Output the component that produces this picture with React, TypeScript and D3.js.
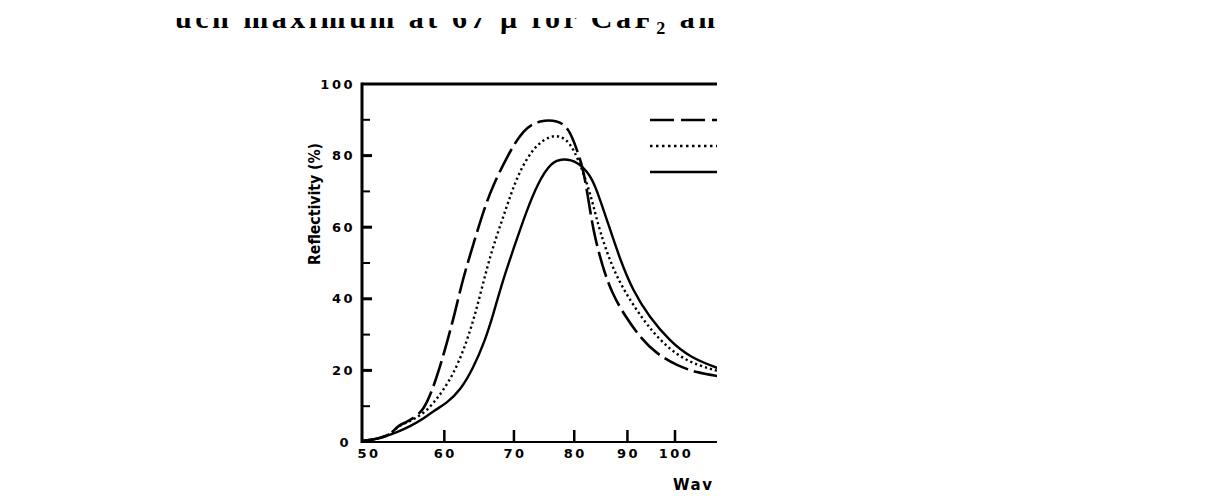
import React from "react";
import * as d3 from "d3";

// ---- data ----
const xTicks = [50, 60, 70, 80, 90, 100];
const yMajorTicks = [0, 20, 40, 60, 80, 100];
const yMinorTicks = [10, 30, 50, 70, 90];

const dashedWl = [50, 51, 52, 53, 53.6, 54.2, 55.2, 56.1, 57.3, 58.4, 59.4, 60.3, 61.4, 62.5, 64.0, 65.6, 66.8, 68.9, 71.5, 74.2, 77.1, 79.1, 80.5, 81.5, 82.3, 83.4, 85.2, 87.0, 89.7, 92.6, 96.0, 100.5, 104.9, 110];
const dashedR = [0.3, 0.6, 1.1, 1.9, 3.0, 4.6, 5.6, 6.8, 8.9, 14.3, 20.8, 27.4, 35.8, 45.5, 55.4, 65.5, 71.5, 79.6, 87.6, 89.9, 89.9, 87.6, 81.5, 76.8, 70.3, 59.1, 48.8, 41.4, 34.8, 29.2, 24.6, 21.3, 19.4, 18.4];

const dottedWl = [50, 51, 52, 53, 53.6, 54.2, 55.2, 56.3, 57.7, 58.8, 59.8, 61.2, 62.6, 64.0, 65.2, 66.5, 68.1, 69.3, 70.6, 72.9, 75.8, 77.8, 79.3, 80.8, 82.3, 83.4, 84.6, 87.0, 89.7, 93.3, 96.8, 101.2, 105.6, 110];
const dottedR = [0.3, 0.6, 1.1, 1.9, 3.0, 4.5, 5.4, 6.6, 8.7, 11.5, 14.3, 19.0, 25.5, 33.9, 43.0, 52.6, 61.5, 68.0, 74.5, 82.0, 85.7, 85.4, 83.4, 78.7, 72.2, 66.5, 59.1, 48.8, 41.4, 33.9, 28.3, 23.6, 21.3, 19.8];

const solidWl = [50, 51, 52, 53, 54.4, 55.6, 56.9, 58.6, 60.3, 62.2, 64.0, 65.6, 66.9, 68.1, 70.2, 72.0, 73.8, 76.0, 78.1, 80.5, 82.8, 84.0, 85.9, 88.6, 91.1, 94.5, 98.8, 103.4, 110];
const solidR = [0.3, 0.6, 1.1, 1.8, 3.1, 4.4, 5.9, 8.7, 10.8, 14.5, 20.8, 28.0, 35.8, 44.0, 55.4, 64.6, 72.3, 78.2, 79.2, 78.4, 74.8, 70.8, 62.5, 50.7, 42.3, 34.8, 28.3, 23.6, 20.6];

const yLabel = "Reflectivity (%)";
const xLabel = "Wav";
const headerText = "uch maximum at 67 \u03bc for CaF\u2082 an";

export default function App() {
  const W = 1231, H = 504;
  const left = 362, right = 717, top = 84, bottom = 442;
  const x = d3.scaleLog().domain([50, 100]).range([left, 675]);
  const y = d3.scaleLinear().domain([0, 100]).range([bottom, top]);

  const line = d3
    .line<[number, number]>()
    .x((d) => x(d[0]))
    .y((d) => y(d[1]))
    .curve(d3.curveBasis);

  const dashedPts = dashedWl.map((w, i) => [w, dashedR[i]] as [number, number]);
  const dottedPts = dottedWl.map((w, i) => [w, dottedR[i]] as [number, number]);
  const solidPts = solidWl.map((w, i) => [w, solidR[i]] as [number, number]);

  const tickFont = "'DejaVu Sans', sans-serif";

  return (
    <svg
      width={W}
      height={H}
      style={{ position: "absolute", left: 0, top: 0, background: "#fff" }}
    >
      <defs>
        <clipPath id="crop">
          <rect x={0} y={0} width={right} height={H} />
        </clipPath>
        <clipPath id="headerClip">
          <rect x={0} y={18} width={right} height={20} />
        </clipPath>
      </defs>
      <rect x={0} y={0} width={W} height={H} fill="#fff" />

      {/* header text line, partially cropped */}
      <g clipPath="url(#headerClip)">
        <text
          x={175}
          y={28}
          fontFamily="'Liberation Serif', serif"
          fontSize={30}
          fontWeight="bold"
          textLength={540}
          lengthAdjust="spacing"
          fill="#000"
        >
          {headerText}
        </text>
      </g>

      <g clipPath="url(#crop)">
        {/* frame */}
        <line x1={left} x2={right} y1={top} y2={top} stroke="#000" strokeWidth={3} />
        <line x1={left} x2={left} y1={top - 1.5} y2={bottom + 1} stroke="#000" strokeWidth={3} />
        <line x1={left} x2={right} y1={bottom} y2={bottom} stroke="#000" strokeWidth={2} />

        {/* y ticks */}
        {yMajorTicks.filter((t) => t > 0 && t < 100).map((t) => (
          <line key={"ym" + t} x1={left} x2={left + 10} y1={y(t)} y2={y(t)} stroke="#000" strokeWidth={3} />
        ))}
        {yMinorTicks.map((t) => (
          <line key={"yn" + t} x1={left} x2={left + 8} y1={y(t)} y2={y(t)} stroke="#000" strokeWidth={2} />
        ))}
        {/* x ticks */}
        {xTicks.filter((t) => t > 50).map((t) => (
          <line key={"xt" + t} x1={x(t)} x2={x(t)} y1={bottom} y2={bottom - 12} stroke="#000" strokeWidth={2.5} />
        ))}

        {/* curves */}
        <path d={line(dashedPts) || ""} fill="none" stroke="#000" strokeWidth={2.6} strokeDasharray="26 6" />
        <path d={line(dottedPts) || ""} fill="none" stroke="#000" strokeWidth={2.4} strokeDasharray="2.2 3" />
        <path d={line(solidPts) || ""} fill="none" stroke="#000" strokeWidth={2.4} />

        {/* legend samples */}
        <line x1={650} x2={760} y1={120} y2={120} stroke="#000" strokeWidth={2.5} strokeDasharray="24 7" />
        <line x1={650} x2={760} y1={146} y2={146} stroke="#000" strokeWidth={2.5} strokeDasharray="2.5 3.5" />
        <line x1={650} x2={760} y1={172} y2={172} stroke="#000" strokeWidth={2.5} />
      </g>

      {/* y tick labels */}
      {yMajorTicks.map((t) => (
        <text
          key={"yl" + t}
          x={t === 0 ? 351 : 355}
          y={y(t)}
          dy="0.36em"
          textAnchor="end"
          fontFamily={tickFont}
          fontWeight="bold"
          fontSize={13}
          letterSpacing={2.5}
          fill="#000"
        >
          {t}
        </text>
      ))}

      {/* x tick labels */}
      {xTicks.map((t, i) => (
        <text
          key={"xl" + t}
          x={x(t) + (i === 0 ? 7 : 1)}
          y={458}
          textAnchor="middle"
          fontFamily={tickFont}
          fontWeight="bold"
          fontSize={13}
          letterSpacing={2.5}
          fill="#000"
        >
          {t}
        </text>
      ))}

      {/* axis titles */}
      <text
        transform="translate(320,204) rotate(-90)"
        textAnchor="middle"
        fontFamily={tickFont}
        fontWeight="bold"
        fontSize={15}
        textLength={122}
        lengthAdjust="spacingAndGlyphs"
        fill="#000"
      >
        {yLabel}
      </text>
      <text
        x={673}
        y={490}
        fontFamily={tickFont}
        fontWeight="bold"
        fontSize={15}
        letterSpacing={1.5}
        fill="#000"
      >
        {xLabel}
      </text>
    </svg>
  );
}
